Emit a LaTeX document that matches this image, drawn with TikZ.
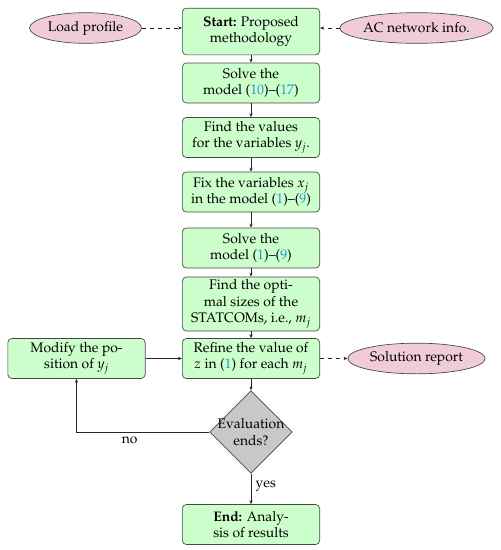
\documentclass[tikz,border=0pt]{standalone}
\usepackage[T1]{fontenc}
\usepackage{mathpazo}
\usetikzlibrary{arrows.meta,shapes.geometric}
\definecolor{boxgreen}{RGB}{204,255,204}
\definecolor{ellpink}{RGB}{240,204,218}
\definecolor{decgray}{RGB}{200,200,200}
\definecolor{refblue}{RGB}{30,150,210}
\definecolor{edgegray}{RGB}{70,70,70}
\newcommand{\eqr}[1]{(\textcolor{refblue}{#1})}
\tikzset{
  procbox/.style={draw=edgegray, fill=boxgreen, rounded corners=3pt, align=center,
    minimum width=103pt, minimum height=30pt, inner sep=1.5pt, line width=0.5pt},
  inbox/.style={draw=edgegray, fill=ellpink, ellipse, inner sep=0pt, line width=0.5pt},
  decision/.style={draw=edgegray, fill=decgray, diamond, inner sep=0pt,
    minimum width=62pt, minimum height=62pt, line width=0.5pt},
  flow/.style={draw=black!85, line width=0.45pt, -{Stealth[length=3pt,width=2.4pt]}},
  dflow/.style={flow, dashed},
}
\begin{document}
\begin{tikzpicture}[x=0.75pt,y=-0.75pt, font=\fontsize{10.4pt}{12.4pt}\selectfont]
\useasboundingbox (0,0) rectangle (500,550);
\node[procbox, minimum height=35pt] (start) at (251,31.5) {\textbf{Start:} Proposed\\methodology};
\node[procbox] (solve1) at (251,83) {Solve the\\model \eqr{10}--\eqr{17}};
\node[procbox] (findval) at (251,137.5) {Find the values\\for the variables $y_j$.};
\node[procbox] (fix) at (251,192) {Fix the variables $x_j$\\in the model \eqr{1}--\eqr{9}};
\node[procbox] (solve2) at (251,248) {Solve the\\model \eqr{1}--\eqr{9}};
\node[procbox, minimum height=40.5pt] (findopt) at (251,304) {Find the opti-\\mal sizes of the\\STATCOMs, i.e., $m_j$};
\node[procbox] (refine) at (251,358.5) {Refine the value of\\$z$ in \eqr{1} for each $m_j$};
\node[procbox] (modify) at (76.5,358.5) {Modify the po-\\sition of $y_j$};
\node[decision] (eval) at (251,432) {};
\node[align=center, inner sep=0pt] (evaltext) at (251,432) {Evaluation\\ends?};
\node[procbox] (finish) at (251,524.5) {\textbf{End:} Analy-\\sis of results};
\node[inbox, minimum width=84pt, minimum height=23pt] (load) at (85.5,28) {Load profile};
\node[inbox, minimum width=115pt, minimum height=23pt] (ac) at (416.5,28) {AC network info.};
\node[inbox, minimum width=103pt, minimum height=23pt] (report) at (416.5,358.5) {Solution report};
\draw[dflow] (load.east) -- (load.east -| start.west);
\draw[dflow] (ac.west) -- (ac.west -| start.east);
\draw[flow] (start) -- (solve1);
\draw[flow] (solve1) -- (findval);
\draw[flow] (findval) -- (fix);
\draw[flow] (fix) -- (solve2);
\draw[flow] (solve2) -- (findopt);
\draw[flow] (findopt) -- (refine);
\draw[flow] (refine) -- (eval);
\draw[flow] (eval) -- node[right, pos=0.4] {yes} (finish);
\draw[flow] (eval.west) -- node[below, pos=0.6] {no} (eval.west -| modify.south) -- (modify.south);
\draw[flow] (modify) -- (refine);
\draw[dflow] (refine) -- (report);
\end{tikzpicture}
\end{document}
